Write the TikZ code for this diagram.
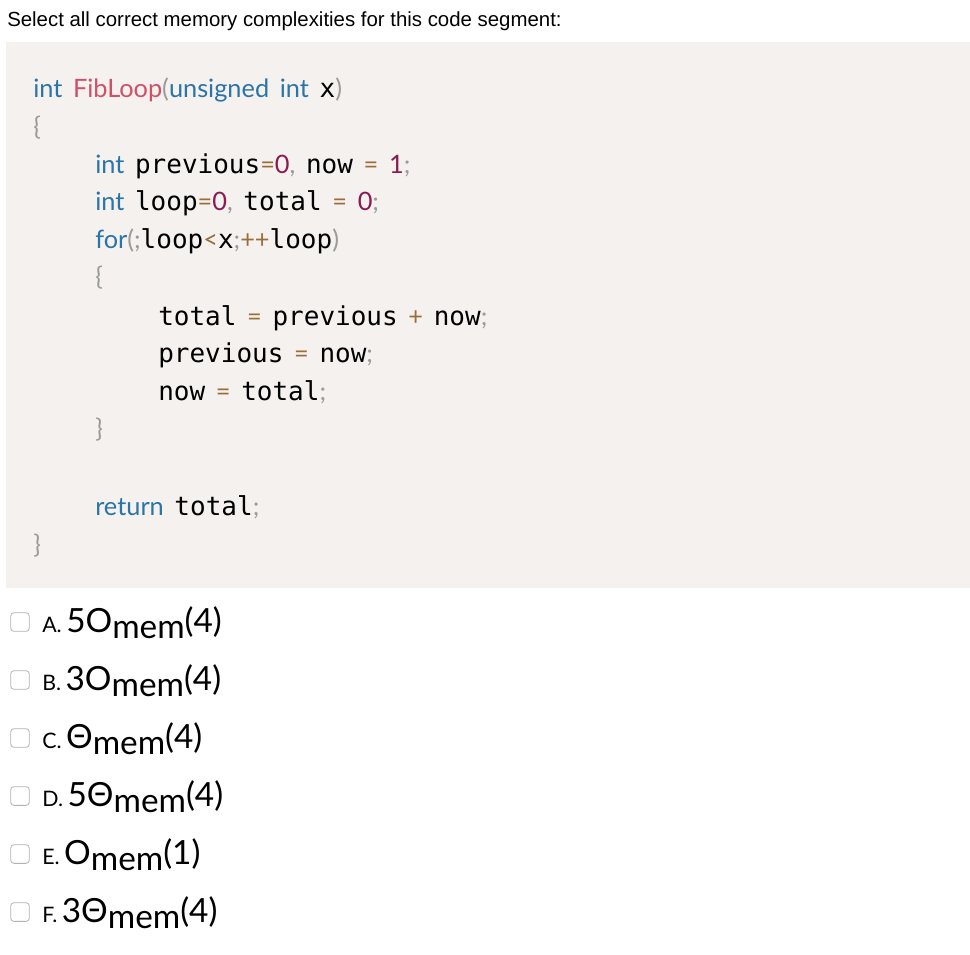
\documentclass[tikz,border=0pt]{standalone}
\usepackage{fontspec}
\setmainfont{Liberation Sans}
\newfontfamily\codesans{Lato}
\newfontfamily\codemono{DejaVu Sans Mono}
\newfontfamily\optfont{Lato}
\definecolor{bg}{HTML}{F4F1EE}
\definecolor{kw}{HTML}{2B74A8}
\definecolor{fn}{HTML}{D0506A}
\definecolor{nm}{HTML}{8B1A52}
\definecolor{op}{HTML}{9A6E3A}
\definecolor{pu}{HTML}{9A9A9A}
\newcommand{\K}[1]{{\color{kw}#1}}
\newcommand{\F}[1]{{\color{fn}#1}}
\newcommand{\N}[1]{{\color{nm}#1}}
\newcommand{\Op}[1]{{\color{op}#1}}
\newcommand{\Pu}[1]{{\color{pu}#1}}
\newcommand{\M}[1]{{\codemono\fontsize{19.5}{21}\selectfont #1}}
\newcommand{\Sp}{\hspace{8pt}}
\begin{document}
\begin{tikzpicture}[x=0.75pt,y=-0.75pt,
  code/.style={anchor=base west,inner sep=0pt,font=\codesans\fontsize{19}{21}\selectfont},
  opt/.style={anchor=base west,inner sep=0pt,font=\optfont\fontsize{16}{18}\selectfont},
  big/.style={anchor=base west,inner sep=0pt,font=\optfont\fontsize{25}{27}\selectfont},
  box/.style={draw=black!30,fill=white,rounded corners=2.5pt,minimum size=14pt,inner sep=0pt,line width=0.6pt}]
\useasboundingbox (0,0) rectangle (970,954);
\fill[bg] (6,42) rectangle (970,588);
\node[anchor=base west,inner sep=0pt,font=\fontsize{15.5}{17}\selectfont] (t) at (7,26) {\fontsize{15.3}{17}\selectfont Select all correct memory complexities for this code segment:};
\node[code] (l1) at (33,97) {\K{int}\Sp\F{FibLoop}\Pu{(}\K{unsigned}\Sp\K{int}\Sp\M{x}\Pu{)}};
\node[code] (l2) at (33,135) {\Pu{\{}};
\node[code] (l3) at (95,173) {\K{int}\Sp\M{previous}\Op{=}\N{0}\Pu{,}\Sp\M{now}\Sp\Op{=}\Sp\N{1}\Pu{;}};
\node[code] (l4) at (95,210) {\K{int}\Sp\M{loop}\Op{=}\N{0}\Pu{,}\Sp\M{total}\Sp\Op{=}\Sp\N{0}\Pu{;}};
\node[code] (l5) at (95,248) {\K{for}\Pu{(;}\M{loop}\Op{<}\M{x}\Pu{;}\Op{++}\M{loop}\Pu{)}};
\node[code] (l6) at (95,285) {\Pu{\{}};
\node[code] (l7) at (158,325) {\M{total}\Sp\Op{=}\Sp\M{previous}\Sp\Op{+}\Sp\M{now}\Pu{;}};
\node[code] (l8) at (158,362) {\M{previous}\Sp\Op{=}\Sp\M{now}\Pu{;}};
\node[code] (l9) at (158,400) {\M{now}\Sp\Op{=}\Sp\M{total}\Pu{;}};
\node[code] (l10) at (95,437) {\Pu{\}}};
\node[code] (l11) at (95,515) {\K{return}\Sp\M{total}\Pu{;}};
\node[code] (l12) at (33,553) {\Pu{\}}};
\foreach \y/\n/\c/\a in {622/A/5O/4,680/B/3O/4,738/C/Θ/4,796/D/5Θ/4,854/E/O/1,912/F/3Θ/4}{
  \node[box] (cb\n) at (20,\y) {};
  \node[opt] (ol\n) at (42,\y+10) {\n.};
  \node[big,xshift=3pt] (ov\n) at (ol\n.base east) {\c\raisebox{-5pt}{mem}(\a)};
}
\end{tikzpicture}
\end{document}
